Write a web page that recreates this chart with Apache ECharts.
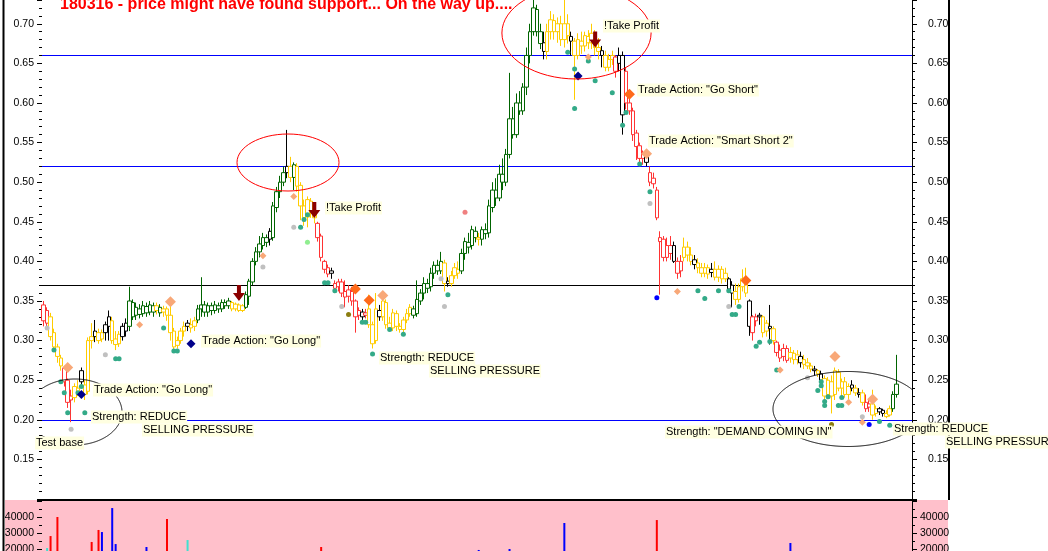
<!DOCTYPE html>
<html><head><meta charset="utf-8">
<script src="https://cdn.jsdelivr.net/npm/echarts@6/dist/echarts.min.js"></script>
<style>html,body{margin:0;padding:0;background:#fff;overflow:hidden}#c{width:1048px;height:600px}</style>
</head><body><div id="c"></div>
<script>
const titleText = '180316 - price might have found support... On the way up....';

// OHLC candles: [open, close, low, high]
const candles = [
[.345,.325,.318,.350],[.338,.322,.315,.342],[.330,.305,.300,.335],[.310,.292,.288,.315],[.292,.280,.272,.296],
[.278,.268,.262,.282],[.265,.248,.242,.268],[.250,.222,.215,.252],[.225,.230,.197,.238],[.228,.242,.222,.246],
[.240,.236,.230,.250],[.248,.262,.244,.266],[.244,.232,.225,.250],[.236,.300,.232,.304],[.300,.305,.290,.322],
[.305,.312,.298,.326],[.310,.300,.296,.315],[.302,.310,.298,.314],[.310,.320,.300,.324],[.318,.330,.300,.338],
[.325,.300,.296,.330],[.302,.295,.288,.312],[.296,.308,.292,.312],[.305,.318,.300,.322],[.312,.322,.305,.328],
[.318,.350,.312,.368],[.348,.330,.326,.352],[.332,.342,.326,.348],[.340,.333,.328,.346],[.334,.344,.330,.350],
[.343,.335,.330,.348],[.336,.345,.332,.350],[.344,.336,.330,.348],[.338,.344,.333,.348],[.342,.335,.330,.346],
[.336,.340,.330,.344],[.340,.332,.325,.343],[.332,.310,.300,.348],[.312,.292,.288,.316],[.294,.300,.290,.305],
[.300,.312,.296,.316],[.312,.318,.305,.324],[.318,.322,.312,.326],[.320,.316,.310,.328],[.318,.325,.312,.330],
[.326,.340,.322,.345],[.340,.345,.330,.380],[.345,.336,.330,.350],[.336,.344,.330,.348],[.344,.338,.332,.348],
[.338,.345,.334,.350],[.344,.340,.335,.348],[.340,.348,.336,.352],[.348,.344,.340,.352],[.344,.350,.340,.354],
[.348,.340,.337,.350],[.340,.346,.337,.348],[.345,.338,.336,.347],[.338,.344,.336,.346],[.342,.358,.340,.362],
[.356,.375,.345,.378],[.374,.400,.370,.404],[.400,.412,.395,.418],[.412,.422,.405,.432],[.420,.430,.415,.436],
[.430,.424,.418,.434],[.428,.438,.420,.442],[.430,.470,.426,.475],[.468,.488,.462,.494],[.488,.500,.480,.508],
[.500,.512,.495,.520],[.512,.520,.505,.566],[.520,.506,.500,.532],[.506,.522,.490,.525],[.520,.495,.488,.524],
[.496,.470,.452,.500],[.470,.455,.445,.478],[.456,.478,.443,.482],[.476,.462,.455,.480],[.462,.455,.448,.470],
[.448,.430,.425,.450],[.432,.405,.400,.435],[.400,.390,.385,.402],[.392,.384,.380,.396],[.385,.388,.378,.392],
[.372,.366,.360,.376],[.368,.374,.362,.378],[.374,.360,.355,.378],[.362,.355,.342,.376],[.356,.364,.348,.370],
[.362,.350,.344,.368],[.350,.330,.310,.352],[.332,.338,.326,.342],[.336,.330,.326,.340],[.332,.335,.328,.340],
[.340,.320,.316,.358],[.320,.296,.290,.324],[.300,.340,.296,.360],[.338,.330,.325,.345],[.330,.350,.325,.358],
[.348,.320,.315,.352],[.322,.316,.312,.330],[.316,.335,.312,.340],[.334,.318,.312,.338],[.318,.314,.310,.322],
[.314,.326,.310,.330],[.326,.334,.322,.340],[.334,.342,.330,.346],[.340,.332,.328,.344],[.334,.352,.330,.376],
[.350,.360,.345,.365],[.360,.372,.352,.380],[.372,.366,.360,.378],[.368,.385,.362,.392],[.385,.395,.378,.400],
[.395,.388,.383,.402],[.388,.400,.384,.412],[.398,.372,.362,.402],[.375,.372,.368,.380],[.372,.382,.368,.388],
[.382,.392,.378,.398],[.390,.385,.378,.400],[.388,.410,.384,.416],[.410,.425,.402,.430],[.424,.418,.410,.436],
[.420,.440,.415,.445],[.438,.430,.424,.444],[.430,.428,.420,.436],[.428,.440,.420,.444],[.440,.435,.428,.448],
[.436,.470,.430,.478],[.468,.490,.462,.500],[.490,.480,.470,.505],[.480,.510,.476,.522],[.510,.500,.490,.530],
[.500,.535,.495,.542],[.535,.580,.530,.638],[.580,.560,.555,.595],[.560,.600,.556,.612],[.600,.590,.585,.615],
[.590,.620,.585,.625],[.620,.660,.610,.670],[.660,.690,.650,.700],[.690,.720,.685,.730],[.718,.690,.684,.724],
[.690,.675,.668,.700],[.676,.665,.655,.690],[.665,.690,.655,.700],[.690,.705,.680,.716],[.704,.690,.680,.712],
[.690,.700,.676,.708],[.700,.680,.672,.710],[.680,.700,.670,.730],[.700,.685,.675,.712],[.684,.678,.660,.690],
[.678,.660,.604,.682],[.660,.680,.655,.688],[.678,.672,.662,.690],[.672,.685,.665,.690],[.684,.676,.668,.692],
[.676,.688,.668,.700],[.688,.670,.660,.692],[.670,.665,.655,.682],[.666,.660,.645,.672],[.660,.645,.640,.666],
[.645,.655,.640,.662],[.655,.660,.648,.666],[.658,.640,.632,.660],[.650,.660,.640,.670],[.660,.585,.560,.665],
[.640,.600,.592,.645],[.600,.590,.585,.615],[.590,.560,.552,.594],[.562,.545,.528,.566],[.546,.530,.524,.550],
[.530,.535,.522,.540],[.535,.525,.520,.540],[.512,.500,.495,.520],[.505,.498,.492,.512],[.490,.455,.452,.494],
[.430,.425,.358,.438],[.428,.405,.400,.432],[.405,.420,.400,.430],[.420,.410,.402,.432],[.420,.400,.398,.425],
[.400,.385,.378,.405],[.388,.400,.380,.408],[.405,.418,.400,.430],[.418,.408,.400,.425],[.408,.400,.395,.418],
[.402,.396,.390,.408],[.398,.392,.385,.404],[.392,.385,.380,.398],[.385,.392,.380,.398],[.392,.384,.378,.396],
[.386,.390,.380,.398],[.390,.380,.376,.400],[.380,.390,.374,.395],[.390,.378,.372,.394],[.378,.385,.374,.392],
[.378,.365,.362,.380],[.370,.360,.342,.375],[.362,.352,.345,.372],[.352,.368,.348,.372],[.368,.378,.362,.390],
[.378,.360,.355,.392],[.350,.318,.306,.352],[.330,.310,.300,.332],[.325,.330,.318,.334],[.332,.330,.320,.335],
[.330,.310,.304,.332],[.312,.322,.305,.326],[.318,.315,.295,.345],[.315,.300,.295,.318],[.298,.285,.280,.300],
[.288,.278,.273,.295],[.280,.290,.274,.296],[.290,.275,.272,.294],[.278,.285,.272,.292],[.284,.276,.270,.288],
[.276,.282,.270,.288],[.280,.272,.266,.286],[.276,.270,.264,.282],[.272,.268,.264,.278],[.268,.264,.260,.272],
[.264,.262,.256,.268],[.262,.258,.254,.264],[.258,.250,.246,.262],[.252,.230,.222,.256],[.232,.250,.226,.254],
[.248,.230,.208,.256],[.232,.262,.225,.266],[.260,.240,.236,.264],[.240,.248,.228,.252],[.248,.232,.228,.254],
[.232,.242,.226,.246],[.244,.240,.236,.250],[.240,.234,.230,.244],[.234,.232,.228,.240],[.234,.222,.218,.238],
[.222,.214,.210,.232],[.216,.220,.210,.226],[.220,.206,.200,.238],[.208,.214,.204,.218],[.214,.210,.206,.216],
[.212,.208,.204,.214],[.208,.204,.202,.212],[.206,.214,.204,.218],[.214,.232,.210,.236],[.232,.245,.228,.282]
];
// colour class of each candle: g green, y yellow, r red, k black
const candleClasses = ['rryyyyrrry','ykyyykyykk','yyykkggggg','gggygyyyyy','yykyyggggg','gggggyyyyg',
  'ggggggkggg','gkygyyyyyy','rrrrkrrrrr','rrrkryyyky','yyyyyyyygg','gggggggyky','yygggggygg','gggggggggg',
  'ggggggkyyy','yyyykyyyyy','yyykyyyrkk','rrrrrrkrrr','rrrrkrryyy','kyyyykyyyy','kkyyyykrrk','yykyrrrryy',
  'ykyyykykyy','yyyyyykyky','rryykkyygg'].join('').split('');

// horizontal level lines (value, colour)
const levelValues = [0.657, 0.523, 0.372, 0.198];
const levelColors = ['#0000FF', '#0000FF', '#000000', '#0000FF'];

const tealDots = [[3,.288],[5,.248],[6,.234],[7,.209],[10,.234],[11,.242],[12,.209],[21,.277],[22,.277],[35,.316],[38,.287],[39,.287],
  [75,.443],[76,.453],[77,.459],[82,.373],[83,.373],[85,.363],[93,.323],[94,.323],[96,.283],[101,.314],[105,.308],[118,.358],
  [153,.664],[155,.643],[155,.593],[159,.653],[161,.628],[166,.613],[169,.572],[170,.588],[174,.523],[177,.488],
  [191,.363],[193,.353],[197,.363],[200,.363],[201,.333],[202,.333],[203,.343],[208,.293],[209,.298],[212,.299],[214,.263],
  [226,.237],[227,.243],[227,.248],[228,.223],[229,.229],[228,.218],[232,.218],[233,.218],[233,.228],[244,.198],[247,.193]];
const grayDots = [[1,.316],[8,.188],[18,.282],[64,.393],[73,.443],[87,.343],[116,.378],[117,.343],[177,.473],[200,.343],[223,.253],[239,.204]];
const bigLightDiamonds = [[7,.266],[37,.349],[99,.357],[176,.536],[231,.280],[242,.226]];
const smallLightDiamonds = [[28,.320],[64,.407],[73,.482],[159,.658],[185,.362],[215,.263],[235,.222],[239,.197]];
const strongDiamonds = [[91,.365],[95,.351],[171,.611],[205,.376]];
const navyDiamonds = [[11,.232],[43,.296],[156,.634]];
const downArrows = [[57,.360],[79,.465],[161,.680]];
const blueDots = [[179,.354],[241,.194]];
const oliveDots = [[89,.333],[230,.194]];
const pinkDots = [[123,.462]];
const lightGreenDots = [[77,.424]];

// visible volume bars: [candle index, volume, colour class]
const volumeBars = [[1,20600,'c'],[2,28100,'r'],[4,40000,'r'],[14,24400,'r'],[16,31900,'r'],[17,30600,'b'],[20,45600,'b'],
  [21,23100,'b'],[30,21250,'b'],[36,38750,'r'],[42,25600,'c'],[81,21250,'r'],[127,19400,'b'],[136,20000,'b'],
  [152,36250,'b'],[179,38100,'r'],[218,23750,'b']];

const priceTicks = [0.15,0.20,0.25,0.30,0.35,0.40,0.45,0.50,0.55,0.60,0.65,0.70];
const volumeTicks = [20000,30000,40000];

const slotCount = 254;
const categories = Array.from({length: slotCount}, (_, i) => String(i));

const CLS = {g:'#006400', y:'#FFCC00', r:'#FF3333', k:'#000000'};
const VCLS = {r:'#FF0000', b:'#0000FF', c:'#40E0D0'};

const candleData = candles.map((c, i) => {
  const col = CLS[candleClasses[i]];
  return {value: c, itemStyle: {color: '#FFFFFF', color0: col, borderColor: col, borderColor0: col, borderWidth: 1}};
});
const volData = categories.map(() => '-');
volumeBars.forEach(v => { volData[v[0]] = {value: v[1], itemStyle: {color: VCLS[v[2]]}}; });

const chart = echarts.init(document.getElementById('c'), null, {renderer: 'canvas'});
const FONT = '"Liberation Sans", Arial, sans-serif';

function priceFmt(v) {
  for (const t of priceTicks) if (Math.abs(v - t) < 1e-6) return v.toFixed(2);
  return '';
}
function volFmt(v) {
  for (const t of volumeTicks) if (Math.abs(v - t) < 1e-6) return String(v);
  return '';
}
function priceAxis(pos, margin, line) {
  return {type: 'value', gridIndex: 0, position: pos, min: 0.10, max: 0.73, interval: 0.05,
    axisLine: {show: line, onZero: false, lineStyle: {color: '#000', width: 1}},
    axisTick: {show: true, length: 5, inside: false, lineStyle: {color: '#000'}},
    minorTick: {show: true, splitNumber: 5, length: 3, lineStyle: {color: '#000'}},
    axisLabel: {margin: margin, fontSize: 10.5, color: '#000', fontFamily: FONT, formatter: priceFmt, showMaxLabel: false, showMinLabel: false},
    splitLine: {show: false}, minorSplitLine: {show: false}};
}
function volAxis(pos, margin, line) {
  return {type: 'value', gridIndex: 1, position: pos, min: 0, max: 50625, interval: 10000,
    axisLine: {show: line, onZero: false, lineStyle: {color: '#000', width: 1}},
    axisTick: {show: true, length: 5, inside: false, lineStyle: {color: '#000'}},
    minorTick: {show: true, splitNumber: 2, length: 3, lineStyle: {color: '#000'}},
    axisLabel: {margin: margin, fontSize: 10.5, color: '#000', fontFamily: FONT, formatter: volFmt, showMaxLabel: false},
    splitLine: {show: false}, minorSplitLine: {show: false}};
}
function sc(data, symbol, size, color, z) {
  return {type: 'scatter', xAxisIndex: 0, yAxisIndex: 0, data: data, symbol: symbol, symbolSize: size,
    itemStyle: {color: color, opacity: 1}, z: z || 5, silent: true};
}
// the first mark line item is drawn at the axis floor (0.10, hidden under the panel divider)
const markLineData = [{yAxis: 0.10, lineStyle: {color: '#000000', width: 1, type: 'solid'}}]
  .concat(levelValues.map((v, i) => ({yAxis: v, lineStyle: {color: levelColors[i], width: 1, type: 'solid'}})));

function ellipseSegs(cx, cy, rx, ry, xmin, xmax, start) {
  const segs = []; let cur = [];
  for (let k = 0; k <= 720; k++) {
    const t = start + k * Math.PI / 360;
    const x = cx + rx * Math.cos(t), y = cy + ry * Math.sin(t);
    if (x >= xmin && x <= xmax) cur.push([x, y]);
    else { if (cur.length > 1) segs.push(cur); cur = []; }
  }
  if (cur.length > 1) segs.push(cur);
  return segs;
}
const graphics = [];
graphics.push({type: 'rect', z: -10, shape: {x: 5, y: 500, width: 943, height: 100}, style: {fill: '#FFC0CB'}});
graphics.push({type: 'line', z: 50, shape: {x1: 3.5, y1: 0, x2: 3.5, y2: 600}, style: {stroke: '#000', lineWidth: 2}});
graphics.push({type: 'line', z: 50, shape: {x1: 949, y1: 0, x2: 949, y2: 500}, style: {stroke: '#000', lineWidth: 2}});
graphics.push({type: 'line', z: 50, shape: {x1: 42, y1: 500, x2: 912, y2: 500}, style: {stroke: '#000', lineWidth: 2}});
graphics.push({type: 'ellipse', z: 60, shape: {cx: 288, cy: 162.5, rx: 51, ry: 28.5}, style: {fill: 'none', stroke: '#FF0000', lineWidth: 1}});
graphics.push({type: 'ellipse', z: 60, shape: {cx: 576.5, cy: 33, rx: 74.6, ry: 46}, style: {fill: 'none', stroke: '#FF0000', lineWidth: 1}});
ellipseSegs(75, 412, 47, 33, 42, 912, -Math.PI).forEach(s => graphics.push({type: 'polyline', z: 60, shape: {points: s}, style: {fill: 'none', stroke: '#000', lineWidth: 1}}));
ellipseSegs(848, 409, 75, 37.5, 42, 912, 0).forEach(s => graphics.push({type: 'polyline', z: 60, shape: {points: s}, style: {fill: 'none', stroke: '#000', lineWidth: 1}}));

const notes = [
  ['Trade Action: "Go Long"', 93, 390], ['Strength: REDUCE', 91, 417], ['SELLING PRESSURE', 142, 430], ['Test base', 35, 443],
  ['Trade Action: "Go Long"', 201, 341], ['!Take Profit', 325, 208], ['Strength: REDUCE', 379, 358], ['SELLING PRESSURE', 429, 371],
  ['!Take Profit', 603, 26], ['Trade Action: "Go Short"', 637, 90], ['Trade Action: "Smart Short 2"', 648, 141],
  ['Strength: "DEMAND COMING IN"', 665, 432], ['Strength: REDUCE', 893, 429], ['SELLING PRESSURE', 945, 442]
];
notes.forEach(n => graphics.push({type: 'text', z: 80, style: {text: n[0], x: n[1], y: n[2], fill: '#000',
  font: '11px ' + FONT, verticalAlign: 'middle', backgroundColor: '#FFFFE1', padding: [1, 1]}}));
graphics.push({type: 'text', z: 90, style: {text: titleText, x: 60, y: 5, fill: '#FF0000',
  font: 'bold 16px ' + FONT, verticalAlign: 'middle'}});

chart.setOption({
  animation: false,
  backgroundColor: '#FFFFFF',
  grid: [{left: 42, width: 870, top: 0, height: 499}, {left: 42, width: 870, top: 500, height: 81}],
  xAxis: [
    {type: 'category', gridIndex: 0, data: categories, boundaryGap: true, show: false},
    {type: 'category', gridIndex: 1, data: categories, boundaryGap: true, show: false}
  ],
  yAxis: [priceAxis('left', 8, false), priceAxis('right', 16, true), volAxis('left', 8, false), volAxis('right', 8, true)],
  series: [
    {type: 'candlestick', xAxisIndex: 0, yAxisIndex: 0, data: candleData, barWidth: 4, z: 3,
      markLine: {silent: true, symbol: ['none', 'none'], label: {show: false}, animation: false, z: 2,
        lineStyle: {color: '#0000FF', width: 1, type: 'solid'}, data: markLineData}},
    sc(tealDots, 'circle', 5, '#33AA88'),
    sc(grayDots, 'circle', 5, '#C0C0C0'),
    sc(bigLightDiamonds, 'diamond', 11, '#F8A878'),
    sc(smallLightDiamonds, 'diamond', 7, '#F8A878'),
    sc(strongDiamonds, 'diamond', 11, '#FF6A1A'),
    sc(navyDiamonds, 'diamond', 9, '#00008B'),
    sc(downArrows, 'path://M4,0 L8,0 L8,8 L12,8 L6,16 L0,8 L4,8 Z', [12, 16], '#8B0000', 6),
    sc(blueDots, 'circle', 5, '#0000FF'),
    sc(oliveDots, 'circle', 5, '#8B7D10'),
    sc(pinkDots, 'circle', 5, '#F08080'),
    sc(lightGreenDots, 'circle', 5, '#90EE90'),
    {type: 'bar', xAxisIndex: 1, yAxisIndex: 2, data: volData, barWidth: 2, z: 3, silent: true}
  ],
  graphic: graphics
});
</script></body></html>
